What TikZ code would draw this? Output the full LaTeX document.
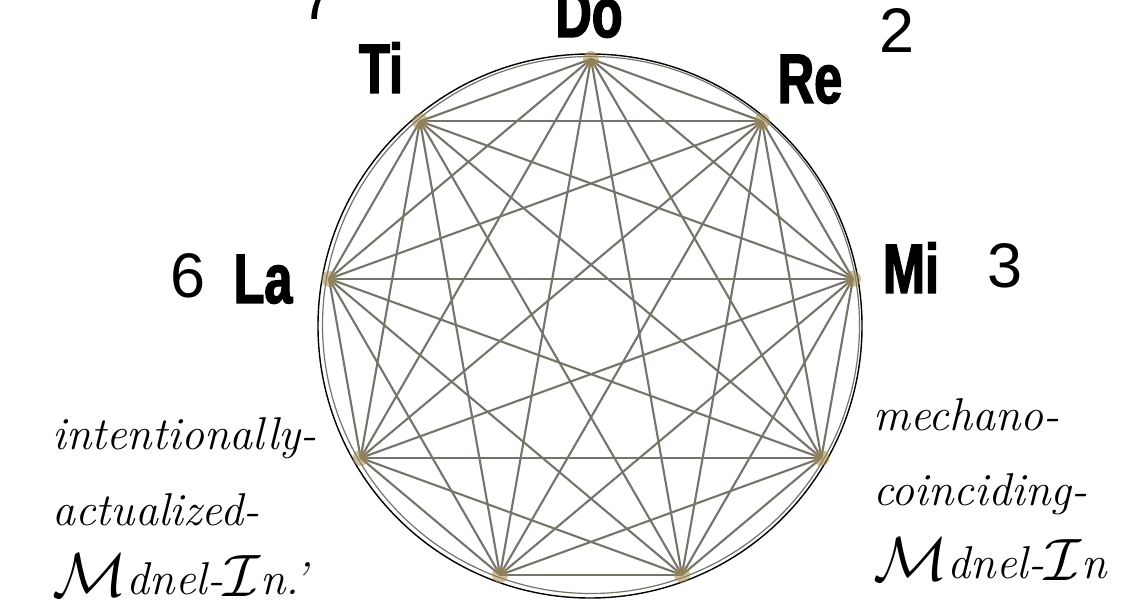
\documentclass[tikz,border=0pt]{standalone}
\usepackage{fix-cm}
\usepackage{fontspec}
\setmainfont{Latin Modern Roman}
\newfontfamily\notefont[FakeStretch=0.72,FakeBold=2]{Liberation Sans Bold}
\newfontfamily\numfont{Liberation Sans}
\definecolor{chordc}{RGB}{118,116,106}
\definecolor{dotc}{RGB}{165,140,80}
\newcommand{\bigM}{\raisebox{-0.05em}{\scalebox{1.35}{$\mathcal{M}$}}}
\newcommand{\bigI}{\raisebox{-0.05em}{\scalebox{1.3}{$\mathcal{I}$}}}
\tikzset{
  chord/.style={draw=chordc,line width=2.1pt},
  note/.style={font=\notefont\fontsize{70}{70}\selectfont,inner sep=0pt,anchor=base},
  num/.style={font=\numfont\fontsize{63}{63}\selectfont,inner sep=0pt,anchor=base},
  script/.style={font=\itshape\fontsize{46}{46}\selectfont,inner sep=0pt,anchor=base west},
  vertexdot/.style={fill=dotc,opacity=0.55,draw=none}
}
\begin{document}
\begin{tikzpicture}[x=1pt,y=-1pt]
\useasboundingbox[fill=white] (0,0) rectangle (1145,601);
\coordinate (c) at (591,325);
% vertices
\foreach \k in {0,...,8}{
  \pgfmathsetmacro\ang{90-40*\k}
  \coordinate (p\k) at ([shift={(591,325)}] \ang:266pt);
}
% outer circles
\draw[chordc,line width=1.2pt] (c) circle[radius=268.5pt];
\draw[black,line width=1.4pt] (590,326) circle[radius=272pt];
% chords (complete graph)
\foreach \i in {0,...,7}{
  \pgfmathtruncatemacro\s{\i+1}
  \foreach \j in {\s,...,8}{
    \draw[chord] (p\i) -- (p\j);
  }
}
\foreach \k in {0,...,8}{
  \fill[vertexdot] (p\k) circle[radius=8pt];
}
% note labels
\node[note] (do) at (589,37) {Do};
\node[note] (re) at (810,103) {Re};
\node[note] (mi) at (911,293) {Mi};
\node[note] (la) at (263,303) {La};
\node[note] (ti) at (381,93) {Ti};
% numbers
\node[num] (n2) at (897,53) {2};
\node[num] (n3) at (1005,288) {3};
\node[num] (n6) at (188,298) {6};
\node[num] (n7) at (318,20) {7};
% script texts
\node[script] (l1) at (52,449) {intentionally-};
\node[script] (l2) at (52,525) {actualized-};
\node[script] (l3) at (52,594) {\bigM dnel-\bigI n.'};
\node[script] (r1) at (873,430) {mechano-};
\node[script] (r2) at (873,505) {coinciding-};
\node[script] (r3) at (873,578) {\bigM dnel-\bigI n};
\end{tikzpicture}
\end{document}
